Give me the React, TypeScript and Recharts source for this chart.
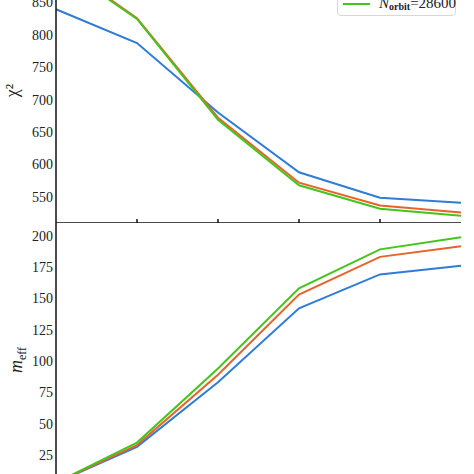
import React from 'react';
import { LineChart, Line, XAxis, YAxis, Label } from 'recharts';

// x positions (shared by both panels)
const steps = [0, 1, 2, 3, 4, 5];

// chi^2 per run
const chiBlue = [839, 787, 680, 588, 549, 541];
const chiOrange = [913, 825, 672, 572, 537, 526];
const chiGreen = [910, 824, 669, 568, 532, 521];

// m_eff per run
const mBlue = [3, 31.6, 83, 142, 169, 176];
const mOrange = [3, 33, 89, 153, 183, 191.5];
const mGreen = [3, 35, 94, 158, 189, 198.6];

const chiTicks = [550, 600, 650, 700, 750, 800, 850];
const mTicks = [25, 50, 75, 100, 125, 150, 175, 200];
const xTicks = [1, 2, 3, 4];

const BLUE = '#2f7cd6';
const ORANGE = '#e8622a';
const GREEN = '#45c41c';
const FONT = "'Liberation Serif', 'DejaVu Serif', serif";

const topData = steps.map((x, i) => ({ x, blue: chiBlue[i], orange: chiOrange[i], green: chiGreen[i] }));
const bottomData = steps.map((x, i) => ({ x, blue: mBlue[i], orange: mOrange[i], green: mGreen[i] }));

const tickStyle = { fontSize: 14, fill: '#222' };
const margin = { top: 0, right: 13, bottom: 0, left: 0 };

export default function App() {
  const lines = (
    [
      ['blue', BLUE],
      ['orange', ORANGE],
      ['green', GREEN],
    ] as const
  ).map(([k, c]) => (
    <Line key={k} xAxisId="b" yAxisId="l" type="linear" dataKey={k} stroke={c} strokeWidth={2} dot={false} isAnimationActive={false} />
  ));

  return (
    <div style={{ position: 'fixed', left: 0, top: 0, width: 474, height: 474, overflow: 'hidden', background: '#fff', fontFamily: FONT }}>
      <style>{`.recharts-wrapper text, .recharts-text { font-family: ${FONT} !important; }`}</style>
      {/* top panel: chi^2 */}
      <div style={{ position: 'absolute', left: 0, top: -46 }}>
        <LineChart width={474} height={269} data={topData} margin={margin}>
          <XAxis xAxisId="b" dataKey="x" type="number" domain={[0, 5]} ticks={xTicks} mirror tickSize={4} tickFormatter={() => ''} stroke="#111" strokeWidth={1.5} />
          <XAxis xAxisId="t" orientation="top" dataKey="x" type="number" domain={[0, 5]} tick={false} tickLine={false} stroke="#111" strokeWidth={1.5} height={0} />
          <YAxis yAxisId="l" domain={[510, 924]} ticks={chiTicks} width={56} tickSize={0} tickMargin={3} tick={tickStyle} axisLine={{ stroke: '#111', strokeWidth: 1.5 }} allowDataOverflow>
            <Label value="χ²" angle={-90} position="insideLeft" offset={12} dy={2} style={{ fontSize: 18, fill: '#222', textAnchor: 'middle' }} />
          </YAxis>
          <YAxis yAxisId="lt" domain={[510, 924]} ticks={chiTicks} width={0} mirror tickSize={4} tickFormatter={() => ''} stroke="#111" axisLine={false} />
          <YAxis yAxisId="r" orientation="right" domain={[510, 924]} width={0} tick={false} tickLine={false} stroke="#111" strokeWidth={1.5} />
          {lines}
        </LineChart>
      </div>

      {/* legend, only its last entry is inside the frame */}
      <div
        style={{
          position: 'absolute',
          left: 337,
          top: -40,
          width: 117,
          height: 54,
          border: '1px solid #d8d8d8',
          borderRadius: 4,
          background: '#fff',
          fontSize: 15,
          color: '#222',
        }}
      >
        <div style={{ position: 'absolute', left: 5, top: 34, display: 'flex', alignItems: 'center', whiteSpace: 'nowrap' }}>
          <span style={{ display: 'inline-block', width: 27, height: 2, background: GREEN, marginRight: 9 }} />
          <span>
            <i>N</i>
            <sub style={{ fontSize: 10, fontWeight: 'bold', verticalAlign: -2 }}>orbit</sub>=28600
          </span>
        </div>
      </div>

      {/* bottom panel: m_eff */}
      <div style={{ position: 'absolute', left: 0, top: 223 }}>
        <LineChart width={474} height={271} data={bottomData} margin={margin}>
          <XAxis xAxisId="b" dataKey="x" type="number" domain={[0, 5]} tick={false} tickLine={false} stroke="#111" strokeWidth={1.5} height={0} />
          <XAxis xAxisId="t" orientation="top" dataKey="x" type="number" domain={[0, 5]} tick={false} tickLine={false} stroke="#111" strokeWidth={1.5} height={0} />
          <YAxis yAxisId="l" domain={[-6, 210]} ticks={mTicks} width={56} tickSize={0} tickMargin={3} tick={tickStyle} axisLine={{ stroke: '#111', strokeWidth: 1.5 }} allowDataOverflow>
            <Label
              position="insideLeft"
              content={(p: any) => {
                const vb = p.viewBox;
                const cx = vb.x + 22;
                const cy = 360 - 223;
                return (
                  <text x={cx} y={cy} transform={`rotate(-90 ${cx} ${cy})`} textAnchor="middle" style={{ fill: '#222' }}>
                    <tspan fontStyle="italic" fontSize={18}>m</tspan>
                    <tspan fontSize={12} dy={4}>eff</tspan>
                  </text>
                );
              }}
            />
          </YAxis>
          <YAxis yAxisId="lt" domain={[-6, 210]} ticks={mTicks} width={0} mirror tickSize={4} tickFormatter={() => ''} stroke="#111" axisLine={false} />
          <YAxis yAxisId="r" orientation="right" domain={[-6, 210]} width={0} tick={false} tickLine={false} stroke="#111" strokeWidth={1.5} />
          {lines}
        </LineChart>
      </div>
    </div>
  );
}
